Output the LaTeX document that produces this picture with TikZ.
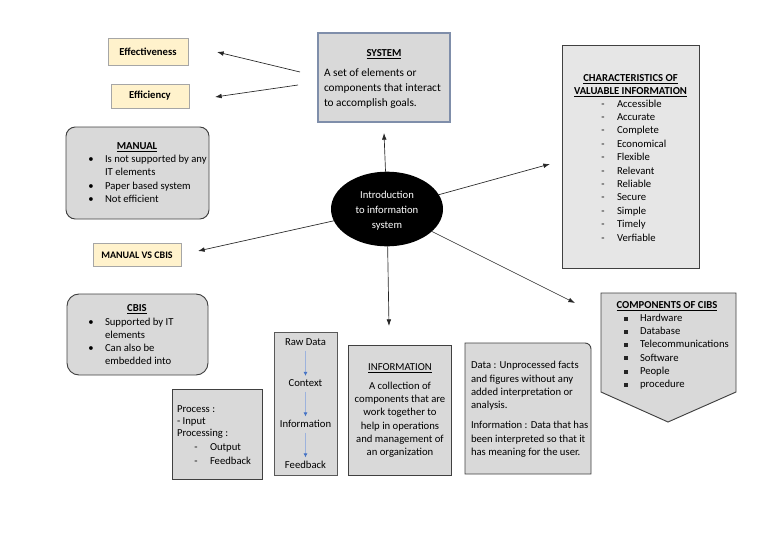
\documentclass[tikz,border=0pt]{standalone}
\usepackage{fontspec}
\setmainfont{Carlito}
\usetikzlibrary{arrows.meta,shapes.geometric,fit}
\definecolor{boxgray}{HTML}{D9D9D9}
\definecolor{lightgray2}{HTML}{E6E6E6}
\definecolor{ylw}{HTML}{FFF2CC}
\definecolor{ygedge}{HTML}{A6A6A6}
\definecolor{sysedge}{HTML}{7F8EAA}
\definecolor{edge}{HTML}{404040}
\definecolor{flowblue}{HTML}{4472C4}
\definecolor{flowlight}{HTML}{9DB3DD}
\begin{document}
\begin{tikzpicture}[x=0.75pt,y=-0.75pt,
  every node/.style={inner sep=0pt, outer sep=0pt},
  box/.style={draw=edge, fill=boxgray, line width=0.7pt},
  ybox/.style={draw=ygedge, fill=ylw, line width=0.6pt},
  txt/.style={font=\fontsize{8}{10}\selectfont},
  btxt/.style={font=\fontsize{8}{10}\selectfont\bfseries},
  arr/.style={draw=black!85, line width=0.5pt, -{Latex[length=5pt,width=3.5pt]}},
  flow/.style={draw=flowlight, line width=0.6pt, -{Latex[length=3pt,width=3pt,color=flowblue]}},
]
\useasboundingbox (0,0) rectangle (768,543);

% ---------- boxes ----------
\node[ybox, fit={(108,38) (188,65)}] (effb) {};
\node[btxt] (eff) at (148,51.5) {Effectiveness};
\node[ybox, fit={(111,84) (189,108)}] (efcb) {};
\node[btxt] (efc) at (150,96) {Efficiency};

\node[draw=sysedge, fill=boxgray, line width=0.8pt, fit={(318,33) (450,122)}] (sys) {};
\node[btxt, anchor=mid] (systitle) at (384,53) {\underline{SYSTEM}};
\foreach \t [count=\i from 0] in {A set of elements or,components that interact,to accomplish goals.}
  \node[txt, font=\fontsize{8.5}{10}\selectfont, anchor=mid west] (sysl\i) at (324,{73+15*\i}) {\t};

\node[box, rounded corners=7pt, fit={(66,127) (209,219)}] (man) {};
\node[btxt, anchor=mid] (mantitle) at (137,146) {\underline{MANUAL}};
\foreach \t/\yy [count=\i] in {Is not supported by any/159,IT elements/172,Paper based system/186,Not efficient/199}
  \node[txt, anchor=mid west] (manl\i) at (105,\yy) {\t};
\foreach \yy [count=\i] in {159,186,199}
  \node[txt, anchor=mid] (manb\i) at (91,\yy) {•};

\node[ybox, fit={(93,243) (181,266)}] (mvcb) {};
\node[btxt, font=\fontsize{7.5}{10}\selectfont\bfseries] (mvc) at (137,255) {MANUAL VS CBIS};

\node[box, rounded corners=9pt, fit={(67,294) (208,375)}] (cbis) {};
\node[btxt, anchor=mid] (cbistitle) at (137,308) {\underline{CBIS}};
\foreach \t/\yy [count=\i] in {Supported by IT/322,elements/335,Can also be/348,embedded into/361}
  \node[txt, anchor=mid west] (cbisl\i) at (105,\yy) {\t};
\foreach \yy [count=\i] in {322,348}
  \node[txt, anchor=mid] (cbisb\i) at (91,\yy) {•};

% Process box
\node[box, fit={(172,389) (262,479)}] (proc) {};
\foreach \t/\yy [count=\i] in {Process :/409,- Input/421,Processing :/433}
  \node[txt, anchor=mid west] (procl\i) at (177,\yy) {\t};
\foreach \t/\yy [count=\i] in {Output/447,Feedback/461}{
  \node[txt, anchor=mid] (procd\i) at (196,\yy) {-};
  \node[txt, anchor=mid west] (procs\i) at (210,\yy) {\t};
}

% Raw data flow box
\node[draw=black!65, fill=boxgray, line width=0.7pt, fit={(274,332) (337,475)}] (rawb) {};
\node[txt, anchor=mid] (rd1) at (305.5,342) {Raw Data};
\node[txt, anchor=mid] (rd2) at (305.5,383) {Context};
\node[txt, anchor=mid] (rd3) at (305.5,424) {Information};
\node[txt, anchor=mid] (rd4) at (305.5,465) {Feedback};
\draw[flow, shorten <=4pt, shorten >=2.5pt] (rd1) -- (rd2);
\draw[flow, shorten <=4pt, shorten >=2.5pt] (rd2) -- (rd3);
\draw[flow, shorten <=4pt, shorten >=2.5pt] (rd3) -- (rd4);

% INFORMATION box
\node[box, fit={(348,345) (451,475)}] (info) {};
\node[txt, anchor=mid] (infotitle) at (400,367) {\underline{INFORMATION}};
\foreach \t [count=\i from 0] in {A collection of,components that are,work together to,help in operations,and management of,an organization}
  \node[txt, anchor=mid] (infol\i) at (400,{386+13.3*\i}) {\t};

% Data box (rounded top-right corner)
\draw[box] (465,474) -- (465,343) -- (585,343) to[out=0,in=90] (591,349) -- (591,474) -- cycle;
\foreach \t/\yy [count=\i] in {Data : Unprocessed facts/365,and figures without any/379,added interpretation or/392,analysis./405,Information : Data that has/425,been interpreted so that it/439,has meaning for the user./452}
  \node[txt, anchor=mid west] (datal\i) at (471,\yy) {\t};

% Characteristics box
\node[box, fill=lightgray2, fit={(562,45) (699,268)}] (chr) {};
\node[btxt, anchor=mid] (chrt1) at (630.5,78) {\underline{CHARACTERISTICS OF}};
\node[btxt, anchor=mid] (chrt2) at (630.5,91) {\underline{VALUABLE INFORMATION}};
\foreach \t [count=\i from 0] in {Accessible,Accurate,Complete,Economical,Flexible,Relevant,Reliable,Secure,Simple,Timely,Verfiable}{
  \node[txt, anchor=mid] (chd\i) at (603,{104+13.4*\i}) {-};
  \node[txt, anchor=mid west] (ch\i) at (617,{104+13.4*\i}) {\t};
}

% Components pentagon
\draw[box] (601,293) -- (736,293) -- (736,392) -- (668,422) -- (601,392) -- cycle;
\node[btxt, anchor=mid] (comptitle) at (667,305) {\underline{COMPONENTS OF CIBS}};
\foreach \t [count=\i from 0] in {Hardware,Database,Telecommunications,Software,People,procedure}{
  \node[fill=black!85, minimum size=3pt] (compb\i) at (626,{318.5+13.3*\i}) {};
  \node[txt, anchor=mid west] (comp\i) at (640,{318+13.3*\i}) {\t};
}

% central ellipse
\node[ellipse, fill=black, minimum width=84pt, minimum height=56pt] (el) at (387,209) {};
\foreach \t/\yy [count=\i] in {Introduction/195,to information/210,system/225}
  \node[txt, text=white, anchor=mid] (ell\i) at (387,\yy) {\t};

% ---------- connectors ----------
\coordinate (effS) at (300,72);
\coordinate (effT) at (217,52);
\coordinate (efcS) at (298,85);
\coordinate (efcT) at (215,97);
\coordinate (upT) at (384,133);
\coordinate (leftT) at (198,251);
\coordinate (rightT) at (550,164);
\coordinate (compT) at (575,303);
\coordinate (downT) at (389,326);
\draw[arr] (effS) -- (effT);
\draw[arr] (efcS) -- (efcT);
\draw[arr] (el) -- (upT);
\draw[arr] (el) -- (leftT);
\draw[arr] (el) -- (rightT);
\draw[arr] (el) -- (compT);
\draw[arr] (el) -- (downT);
\end{tikzpicture}
\end{document}
